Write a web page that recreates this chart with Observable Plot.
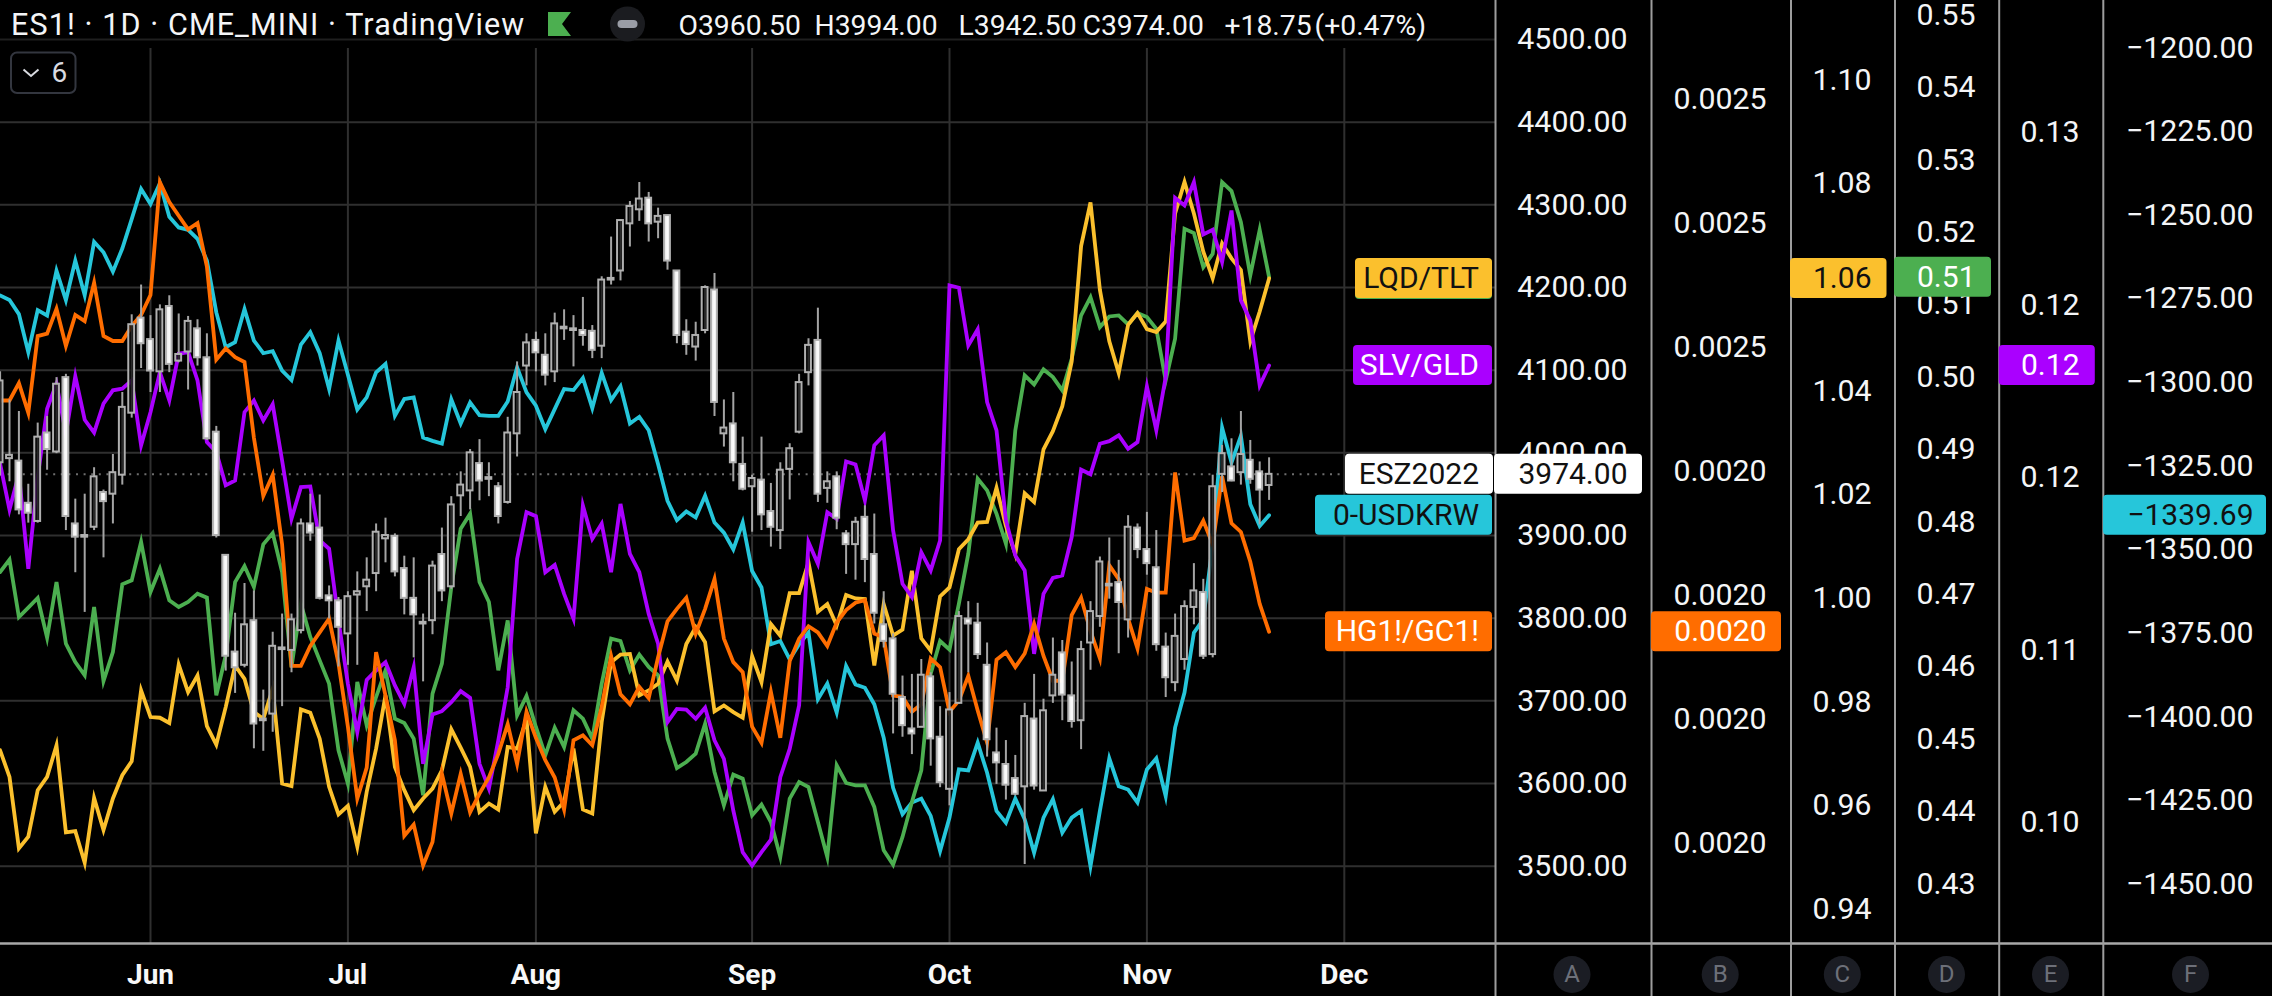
<!DOCTYPE html>
<html>
<head>
<meta charset="utf-8">
<style>
html,body{margin:0;padding:0;background:#000;overflow:hidden}
svg{display:block}
</style>
<script src="https://cdn.jsdelivr.net/npm/d3@7"></script>
<script src="https://cdn.jsdelivr.net/npm/@observablehq/plot@0.6"></script>
</head>
<body>
<script>
// ---- candles (ES1!, axis A); the first entry is 16 trading days before 1 June
const esOpen = [3988,3993,3990,3939,3917,4024,4001,4091,3914,3898,
3910,3952,3950,3973,4048,4163,4137,4098,4177,4111,
4122,4150,4115,4025,3876,3759,3743,3797,3676,3684,
3762,3761,3785,3914,3909,3827,3821,3781,3828,3838,
3854,3896,3899,3860,3824,3793,3797,3877,3838,3948,
3954,3987,3970,3959,3940,4023,4105,4136,4118,4098,
4152,4150,4148,4147,4129,4211,4220,4277,4294,4308,
4279,4287,4220,4146,4128,4148,4197,4023,4035,3986,
3959,3967,3929,3906,3980,4025,4097,4136,3957,3971,
3902,3889,3922,3877,3792,3775,3704,3666,3668,3729,
3656,3593,3697,3799,3794,3743,3637,3623,3606,3596,
3678,3591,3706,3758,3706,3676,3770,3802,3841,3843,
3798,3909,3883,3861,3765,3722,3750,3813,3831,3756,
3974,3983,3976,3991,3977,3960.5];
const esClose = [4087,3997,3931,3927,4019,4004,4083,3923,3898,3900,
3971,3941,3976,4055,4155,4132,4099,4173,4107,4119,
4159,4115,4017,3900,3754,3740,3792,3672,3678,3766,
3764,3798,3914,3903,3824,3821,3789,3826,3832,3846,
3904,3900,3856,3824,3804,3795,3863,3833,3937,3961,
4000,3966,3968,3923,4024,4073,4133,4121,4094,4156,
4150,4148,4142,4124,4209,4209,4281,4298,4307,4277,
4286,4232,4142,4131,4142,4200,4061,4030,3988,3956,
3969,3925,3910,3979,4005,4085,4130,3950,3965,3921,
3889,3916,3871,3806,3772,3708,3670,3660,3731,3654,
3601,3689,3802,3793,3756,3653,3625,3598,3587,3681,
3597,3688,3731,3707,3675,3762,3808,3868,3839,3819,
3910,3883,3866,3768,3728,3778,3814,3833,3754,3959,
3999,3966,3998,3968,3955,3974];
const esHigh = [4098,4064,4050,3962,4036,4044,4091,4095,3944,3950,
3982,3955,3998,4073,4167,4203,4166,4179,4190,4168,
4165,4161,4144,4032,3877,3806,3842,3833,3713,3783,
3805,3805,3920,3950,3949,3839,3825,3832,3856,3873,
3914,3921,3902,3875,3873,3805,3869,3909,3947,3977,
4004,4016,3988,3964,4043,4110,4144,4146,4144,4169,
4173,4166,4188,4154,4213,4261,4282,4304,4327,4315,
4296,4287,4220,4161,4158,4202,4217,4064,4073,4019,
3973,4019,3963,3988,4011,4095,4138,4175,3977,3977,
3906,3922,3936,3926,3832,3781,3730,3732,3750,3734,
3693,3710,3808,3820,3818,3770,3667,3652,3634,3697,
3732,3702,3776,3773,3747,3772,3820,3874,3897,3870,
3924,3914,3928,3906,3782,3805,3821,3866,3847,3973,
4009,4017,4050,4015,3989,3994];
const esLow = [3972,3965,3925,3915,3915,3979,3999,3906,3855,3807,
3906,3873,3914,3961,4042,4102,4073,4073,4097,4109,
4076,4105,4015,3897,3736,3709,3740,3642,3639,3662,
3693,3734,3781,3893,3822,3799,3741,3743,3743,3808,
3832,3867,3850,3804,3752,3723,3780,3820,3835,3923,
3931,3942,3947,3914,3938,3995,4081,4098,4081,4085,
4136,4104,4129,4114,4114,4203,4208,4249,4280,4255,
4259,4221,4132,4118,4111,4144,4044,4007,3965,3954,
3904,3906,3886,3883,3943,4023,4081,3940,3939,3907,
3853,3846,3843,3793,3764,3660,3656,3635,3668,3621,
3595,3573,3696,3734,3750,3632,3599,3580,3585,3502,
3592,3591,3697,3676,3667,3641,3737,3789,3823,3757,
3776,3872,3852,3760,3704,3711,3737,3792,3750,3752,
3952,3965,3961,3962,3913,3942.5];

// ---- overlay series, each in the units of its own axis
const hgGc = [2257,2257,2271,2247,2309,2311,2331,2301,2326,2321,
2352,2309,2305,2305,2317,2326,2342,2433,2417,2406,
2395,2400,2365,2290,2299,2292,2288,2227,2180,2197,
2141,2043,2043,2059,2070,2081,2045,1994,1936,1961,
2054,2019,1983,1906,1915,1882,1901,1956,1924,1956,
1925,1940,1953,1972,1996,1964,2006,1985,1967,1953,
1927,1983,1987,1979,2010,2051,2020,2012,2026,2017,
2050,2079,2089,2098,2069,2089,2113,2065,2046,2038,
1994,1981,2022,1985,2047,2065,2075,2070,2059,2078,
2088,2094,2096,2069,2066,2019,2018,2006,2012,2049,
2042,2006,2015,2035,2007,1981,2048,2054,2042,2053,
2077,2051,2031,2031,2084,2098,2071,2049,2124,2113,
2081,2057,2105,2102,2102,2199,2144,2146,2160,2141,
2196,2158,2151,2127,2093,2070.5].map(v => v / 1e6);
const lqdTlt = [.97070,.96557,.95179,.95403,.96301,.96557,.97166,.95487,.95512,.94903,
.96153,.95532,.96141,.96589,.96859,.98224,.97711,.97698,.97596,.98724,
.98192,.98512,.97538,.97179,.97903,.98705,.98448,.97807,.97679,.98256,
.96429,.96378,.97858,.97794,.97294,.96365,.95833,.96000,.95211,.96269,
.97102,.98128,.96750,.96301,.95916,.96141,.96333,.96685,.97474,.97121,
.96750,.95884,.96044,.95929,.97134,.97102,.97679,.95468,.96365,.95884,
.96076,.97102,.95929,.95852,.97615,.98769,.98916,.98929,.98128,.98224,
.98352,.98782,.98416,.99121,.99442,.99153,.97820,.97935,.97807,.97698,
.98884,.98384,.99506,.99281,1.00102,1.00102,1.00692,.99743,.99890,.99474,
1.00064,.99999,.99987,.98705,.99890,.99281,.99397,1.00531,.99230,.98993,
1.00038,1.00211,1.00948,1.01140,1.01461,1.01474,1.02134,1.01397,1.00852,1.02025,
1.01859,1.02872,1.03224,1.03705,1.04570,1.06795,1.07634,1.05948,1.04955,1.04346,
1.05275,1.05500,1.05192,1.05134,1.05339,1.07423,1.08032,1.07423,1.06686,1.06173,
1.06846,1.06557,1.06333,1.04955,1.05532,1.06170];
const greenSeries = [.47307,.47478,.46686,.46815,.46948,.46400,.47169,.46318,.46064,.45880,
.46824,.45802,.46202,.47137,.47192,.47722,.47031,.47353,.46916,.46824,
.46893,.47008,.46953,.45604,.46156,.47169,.47390,.47100,.47690,.47846,
.47307,.45995,.46870,.46410,.46087,.45765,.44844,.44384,.45788,.45190,
.45581,.45949,.45282,.45222,.45005,.44223,.45627,.46041,.47100,.47906,
.48113,.47169,.46893,.45949,.46640,.45328,.45595,.45167,.44775,.45157,
.44890,.45397,.45282,.45005,.45765,.46387,.46354,.45949,.46166,.45995,
.45880,.45005,.44600,.44683,.44798,.45213,.44545,.44085,.44508,.44453,
.43946,.44094,.43854,.43371,.44177,.44407,.44338,.43854,.43371,.44637,
.44393,.44361,.44361,.44062,.43463,.43265,.43647,.44131,.44568,.45903,
.46354,.46235,.46870,.47561,.48597,.48435,.48113,.47699,.49264,.50024,
.49899,.50106,.50001,.49816,.50254,.50852,.51105,.50691,.50838,.50852,
.50728,.50884,.50829,.50668,.49954,.50530,.52049,.51989,.51520,.51704,
.52694,.52570,.52141,.51405,.52035,.51380];
const slvGld = [.11560,.11360,.11516,.11103,.11502,.11799,.11908,.11690,.11940,.11751,
.11695,.11821,.11879,.11886,.11922,.11640,.11784,.11958,.11835,.12038,
.12045,.11922,.11654,.11611,.11466,.11487,.11784,.11835,.11748,.11818,
.11574,.11321,.11458,.11461,.11226,.11190,.10878,.10603,.10393,.10620,
.10661,.10697,.10596,.10516,.10675,.10255,.10470,.10484,.10523,.10571,
.10542,.10255,.10147,.10357,.10588,.11146,.11349,.11332,.11088,.11120,
.10994,.10886,.11378,.11233,.11299,.11088,.11385,.11168,.11088,.10907,
.10777,.10436,.10494,.10491,.10451,.10499,.10357,.10277,.10052,.09871,
.09813,.09871,.09925,.10197,.10320,.10509,.11219,.11125,.11349,.11320,
.11570,.11557,.11400,.11640,.11683,.11270,.11038,.10980,.11175,.11096,
.11226,.12335,.12325,.12074,.12144,.11828,.11705,.11313,.11161,.11096,
.10733,.10994,.11064,.11074,.11241,.11534,.11514,.11647,.11658,.11683,
.11625,.11654,.11896,.11705,.11937,.12716,.12683,.12784,.12557,.12577,
.12437,.12661,.12270,.12183,.11900,.11987];
const usdKrw = [-1274,-1275.4,-1279.6,-1291,-1278.4,-1280,-1266.6,-1275.4,-1263.6,-1274,
-1258,-1261.1,-1266.9,-1260,-1251.2,-1242.2,-1246.7,-1240.5,-1250.5,-1253.7,
-1254.4,-1257.1,-1263.6,-1279.1,-1289.5,-1288,-1278.1,-1287.5,-1291.3,-1290.7,
-1296.5,-1299.3,-1288.7,-1285,-1291.3,-1302,-1287.5,-1297.7,-1308.1,-1304.5,
-1297,-1294.5,-1310,-1305,-1304.5,-1316.5,-1317.5,-1318.3,-1305.1,-1312.3,
-1306,-1309.8,-1310,-1310,-1305.7,-1295.5,-1303,-1307,-1314,-1308,
-1302,-1302.3,-1298.7,-1307.7,-1297.2,-1305.3,-1301.2,-1312.3,-1310.3,-1314.3,
-1324.5,-1335.4,-1341.2,-1338.6,-1340.4,-1333.9,-1341.9,-1344.9,-1349.9,-1341.9,
-1356.4,-1361.3,-1378.3,-1377.3,-1382.8,-1378.3,-1374.8,-1394.7,-1390,-1398.7,
-1384.8,-1390.3,-1391.3,-1396.2,-1406.2,-1421.2,-1429.1,-1425.6,-1424.4,-1429.6,
-1440.1,-1430.1,-1415.7,-1416,-1407.7,-1416.7,-1428.1,-1431.6,-1424.4,-1430.6,
-1440.6,-1430.1,-1424.6,-1434.6,-1430.1,-1428.1,-1444.6,-1428.1,-1412.4,-1420.7,
-1421.7,-1425.6,-1415.7,-1412.4,-1423.7,-1403.2,-1392.7,-1374.8,-1370.8,-1348.4,
-1313.5,-1324,-1316,-1336.4,-1342.9,-1339.69];

// ---- axes: ticks and labels
const monthBars = [0,21,41,64,85,106,127];
const monthLabels = ["Jun","Jul","Aug","Sep","Oct","Nov","Dec"];
const ticksA = [4500,4400,4300,4200,4100,4000,3900,3800,3700,3600,3500];
const labelsA = ticksA.map(v => v.toFixed(2));
const ticksB = [.0025,.0024,.0023,.0022,.0021,.0020,.0019];
const labelsB = ["0.0025","0.0025","0.0025","0.0020","0.0020","0.0020","0.0020"];
const ticksC = [1.10,1.08,1.06,1.04,1.02,1.00,.98,.96,.94];
const labelsC = ticksC.map(v => v.toFixed(2));
const ticksD = [.55,.54,.53,.52,.51,.50,.49,.48,.47,.46,.45,.44,.43];
const labelsD = ticksD.map(v => v.toFixed(2));
const ticksE = [.13,.1225,.115,.1075,.10];
const labelsE = ["0.13","0.12","0.12","0.11","0.10"];
const ticksF = [-1200,-1225,-1250,-1275,-1300,-1325,-1350,-1375,-1400,-1425,-1450];
const labelsF = ticksF.map(v => "\u2212" + Math.abs(v).toFixed(2));
const titleText = "ES1! \u00b7 1D \u00b7 CME_MINI \u00b7 TradingView";
const ohlcTokens = ["O3960.50","H3994.00","L3942.50","C3974.00","+18.75","(+0.47%)"];
const paneLetters = ["A","B","C","D","E","F"];

// ---- colours
const CYAN="#26c6da", GREEN="#4caf50", YELLOW="#fbc02d", PURPLE="#aa00ff", ORANGE="#ff6d00";

// ---- layout helpers: pane geometry in pixels, turned into scale values
const barAt = px => (px - 150) / 9.4;
const priceAt = px => 3500 + (865.7 - px) / 0.8267;
const plotW = 1495, plotH = 943;
const onPrice = (v0, p0, v1, p1) => d3.scaleLinear([v0, v1], [priceAt(p0), priceAt(p1)]);
const toA = v => v;
const toB = onPrice(.0025, 98.7, .0019, 842.7);
const toC = onPrice(1.10, 79.3, .94, 909);
const toD = onPrice(.55, 14.7, .43, 883.3);
const toE = onPrice(.13, 132, .10, 822);
const toF = onPrice(-1200, 47.3, -1450, 883.7);

const FONT = "Roboto, 'Liberation Sans', sans-serif";
const bars = esClose.map((_, i) => i - 16);
const candles = bars.map((bar, i) => ({bar, open: esOpen[i], close: esClose[i], high: esHigh[i], low: esLow[i]}));
const series = (values, to, stroke) => Plot.line(bars.map((bar, i) => ({bar, v: to(values[i])})),
  {x: "bar", y: "v", stroke, strokeWidth: 3.8, strokeLinejoin: "miter", strokeMiterlimit: 6});
const last = a => a[a.length - 1];

const paneAxis = (ticks, labels, to, rightPx) => {
  const text = new Map(ticks.map((v, i) => [to(v), labels[i]]));
  return Plot.axisY(ticks.map(to), {anchor: "right", tickSize: 0, tickPadding: 0, label: null,
    dx: rightPx - plotW, textAnchor: "end", tickFormat: d => text.get(d), fontSize: 30.3, color: "#f4f5f7"});
};

// name badges left of the axes and value badges on the axes
const badge = (x1, x2, price, fill) => Plot.rect([price],
  {x1: () => barAt(x1), x2: () => barAt(x2), y1: d => d - 20 / 0.8267, y2: d => d + 20 / 0.8267, fill, rx: 4});
const badgeText = (txt, xr, price, fill) => Plot.text([price],
  {x: () => barAt(xr), y: d => d, text: () => txt, fill, textAnchor: "end", fontSize: 30});

const pLqd = toC(last(lqdTlt)), pGreen = toD(last(greenSeries)), pSlv = toE(last(slvGld)),
      pEs = last(esClose), pKrw = toF(last(usdKrw)), pHg = toB(last(hgGc));

const ohlcX = [678, 814, 958, 1082, 1224, 1314];

const chrome = () => {
  const g = d3.create("svg:g");
  g.append("polygon").attr("points", "548,12 571,12 562,24 571,36 548,36").attr("fill", GREEN);
  g.append("circle").attr("cx", 627.5).attr("cy", 24).attr("r", 17.5).attr("fill", "#1b1c20");
  g.append("rect").attr("x", 617.5).attr("y", 20).attr("width", 20).attr("height", 8).attr("rx", 4).attr("fill", "#9a9da6");
  g.append("rect").attr("x", 11).attr("y", 52.5).attr("width", 64.5).attr("height", 40.5).attr("rx", 6)
    .attr("fill", "none").attr("stroke", "#33363f").attr("stroke-width", 2);
  g.append("path").attr("d", "M23.5,69.5 L31,76 L38.5,69.5").attr("fill", "none").attr("stroke", "#d8dae0").attr("stroke-width", 2);
  return g.node();
};

const chart = Plot.plot({
  width: 2272, height: 996,
  marginLeft: 0, marginTop: 0, marginRight: 2272 - plotW, marginBottom: 996 - plotH,
  x: {domain: [barAt(0), barAt(plotW)], axis: null},
  y: {domain: [priceAt(plotH), priceAt(0)], axis: null},
  style: {background: "#000", color: "#f4f5f7", fontFamily: FONT, fontSize: "30px", overflow: "visible"},
  marks: [
    // grid
    Plot.ruleY(ticksA.slice(1), {stroke: "#2f2f2f", strokeWidth: 2}),
    Plot.ruleY(ticksA.slice(0, 1), {stroke: "#1f1f1f", strokeWidth: 2}),
    Plot.ruleX(monthBars, {y1: priceAt(plotH), y2: priceAt(48), stroke: "#2f2f2f", strokeWidth: 2}),
    Plot.ruleY([last(esClose)], {stroke: "#6e6e6e", strokeWidth: 2, strokeDasharray: "2 5.6"}),
    // overlays
    series(usdKrw, toF, CYAN),
    series(greenSeries, toD, GREEN),
    series(lqdTlt, toC, YELLOW),
    series(slvGld, toE, PURPLE),
    series(hgGc, toB, ORANGE),
    // candles
    Plot.ruleX(candles, {x: "bar", y1: "low", y2: "high", stroke: "#a4a4a4", strokeWidth: 2}),
    Plot.rect(candles, {x1: d => d.bar - 0.31, x2: d => d.bar + 0.31, y1: "open", y2: "close",
      fill: d => d.close >= d.open ? "#000" : "#fff", fillOpacity: d => d.close >= d.open ? 0.75 : 0.95,
      stroke: "#b0b0b0", strokeWidth: 2}),
    // pane chrome
    Plot.ruleY([priceAt(plotH)], {x1: () => barAt(0), x2: () => barAt(2272), stroke: "#a8a8a8", strokeWidth: 2.4}),
    Plot.ruleX([1495, 1651, 1790.5, 1894.5, 1998.7, 2102.8].map(barAt), {y1: priceAt(0), y2: priceAt(996), stroke: "#9d9d9d", strokeWidth: 2}),
    // axes
    Plot.axisX(monthBars, {anchor: "bottom", tickSize: 0, tickPadding: 21, label: null,
      tickFormat: d => monthLabels[monthBars.indexOf(d)], fontSize: 28, fontWeight: 700, color: "#f8f8f8"}),
    paneAxis(ticksA, labelsA, toA, 1627),
    paneAxis(ticksB, labelsB, toB, 1766),
    paneAxis(ticksC, labelsC, toC, 1871),
    paneAxis(ticksD, labelsD, toD, 1975),
    paneAxis(ticksE, labelsE, toE, 2079),
    paneAxis(ticksF, labelsF, toF, 2253),
    // pane letters
    Plot.dot(paneLetters, {x: (d, i) => barAt([1571.5, 1719.7, 1841.8, 1946, 2050, 2190][i]), y: () => priceAt(974), r: 18.5, fill: "#1b1d24"}),
    Plot.text(paneLetters, {x: (d, i) => barAt([1571.5, 1719.7, 1841.8, 1946, 2050, 2190][i]), y: () => priceAt(974), text: d => d, fill: "#6d7079", fontSize: 24}),
    // badges
    badge(1355, 1492, pLqd - 1.2, GREEN),
    badge(1355, 1492, pLqd, YELLOW), badgeText("LQD/TLT", 1478.5, pLqd, "#111"),
    badge(1790, 1886.5, pLqd, YELLOW), badgeText("1.06", 1871, pLqd, "#111"),
    badge(1894, 1991, pGreen, GREEN), badgeText("0.51", 1975, pGreen, "#fff"),
    badge(1353, 1492, pSlv, PURPLE), badgeText("SLV/GLD", 1478.5, pSlv, "#fff"),
    badge(1998.7, 2094.8, pSlv, PURPLE), badgeText("0.12", 2079, pSlv, "#fff"),
    badge(1345, 1493, pEs, "#fff"), badgeText("ESZ2022", 1478.5, pEs, "#111"),
    badge(1494, 1642, pEs, "#fff"), badgeText("3974.00", 1627, pEs, "#111"),
    badge(1315, 1492, pKrw, CYAN), badgeText("0-USDKRW", 1478.5, pKrw, "#111"),
    badge(2103, 2266, pKrw, CYAN), badgeText("\u22121339.69", 2253, pKrw, "#111"),
    badge(1325, 1492, pHg, ORANGE), badgeText("HG1!/GC1!", 1478.5, pHg, "#fff"),
    badge(1651, 1781, pHg, ORANGE), badgeText("0.0020", 1766, pHg, "#fff"),
    // header
    Plot.text([titleText], {x: () => barAt(10.5), y: () => priceAt(25), text: d => d, textAnchor: "start", fontSize: 30.5, fill: "#f4f5f7"}),
    Plot.text(ohlcTokens, {x: (d, i) => barAt(ohlcX[i]), y: () => priceAt(25), text: d => d, textAnchor: "start", fontSize: 28.3, fill: "#f4f5f7"}),
    Plot.text(["6"], {x: () => barAt(51), y: () => priceAt(73), text: d => d, textAnchor: "start", fontSize: 28, fill: "#d8dae0"}),
    chrome
  ]
});
document.body.append(chart);
for (const t of chart.querySelectorAll("text")) {
  if (t.textContent === titleText) t.style.letterSpacing = "1.1px";
}
</script>
</body>
</html>
